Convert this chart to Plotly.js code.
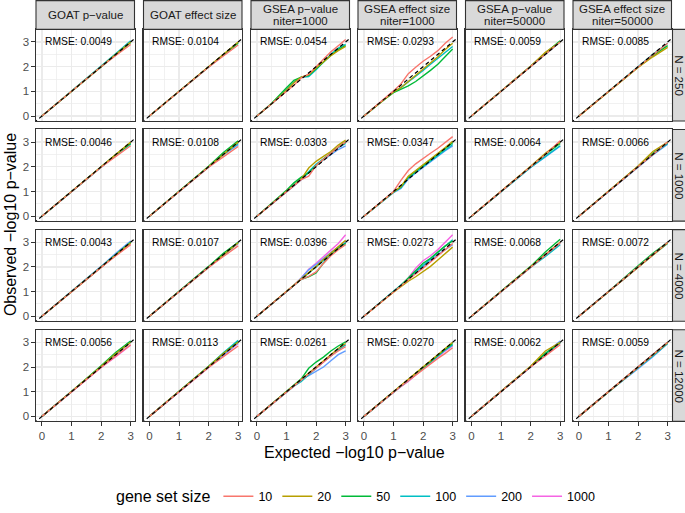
<!DOCTYPE html>
<html>
<head>
<meta charset="utf-8">
<script src="https://cdn.plot.ly/plotly-3.0.1.min.js"></script>
<style>
  html, body { margin: 0; padding: 0; background: #fff; }
  #renderTarget { width: 685px; height: 513px; }
</style>
</head>
<body>
<div id="renderTarget"></div>
<script>
// gene set sizes and their ggplot hue colours
const sizes = ["10", "20", "50", "100", "200", "1000"];
const sizeColors = ["#F8766D", "#B79F00", "#00BA38", "#00BFC4", "#619CFF", "#F564E3"];

// facet labels
const methodLine1 = ["GOAT p\u2212value", "GOAT effect size", "GSEA p\u2212value", "GSEA effect size", "GSEA p\u2212value", "GSEA effect size"];
const methodLine2 = ["", "", "niter=1000", "niter=1000", "niter=50000", "niter=50000"];
const nLabels = ["N = 250", "N = 1000", "N = 4000", "N = 12000"];

const rmse = [
    ["0.0049", "0.0104", "0.0454", "0.0293", "0.0059", "0.0085"],
    ["0.0046", "0.0108", "0.0303", "0.0347", "0.0064", "0.0066"],
    ["0.0043", "0.0107", "0.0396", "0.0273", "0.0068", "0.0072"],
    ["0.0056", "0.0113", "0.0261", "0.0270", "0.0062", "0.0059"],
];

const tickVals = [0, 1, 2, 3];

// expected -log10 p grids the observed values were read at
const xCoarse = [0, 1, 2, 2.5, 3];
const xFine = [0, 0.5, 1, 1.25, 1.5, 1.75, 2, 2.25, 2.5, 2.75, 3];

// reference line y = x
const refLine = [-1, 4];

// observed -log10 p, one row per gene set size (10, 20, 50, 100, 200, 1000)
// N = 250
const goatP_250 = [[0, 1, 2, 2.45, 2.9], [0, 1, 2, 2.5, 3.0], [0, 1, 2, 2.5, 2.98], [0, 1, 2.02, 2.53, 3.05]];
const goatE_250 = [[0, 1, 1.98, 2.43, 2.88], [0, 1, 2, 2.5, 3.0], [0, 1, 2, 2.48, 2.95], [0, 1, 2, 2.5, 2.98]];
const gseaP1k_250 = [
    [0, 0.5, 1.0, 1.25, 1.55, 1.7, 2.0, 2.3, 2.6, 2.85, 3.1],
    [0, 0.5, 1.05, 1.35, 1.58, 1.68, 1.95, 2.2, 2.45, 2.65, 2.82],
    [0, 0.52, 1.15, 1.45, 1.58, 1.65, 1.92, 2.2, 2.45, 2.7, 2.85],
    [0, 0.5, 1.08, 1.38, 1.57, 1.6, 1.88, 2.2, 2.5, 2.75, 2.9],
];
const gseaE1k_250 = [
    [0, 0.5, 1.02, 1.3, 1.72, 1.98, 2.22, 2.42, 2.65, 2.95, 3.2],
    [0, 0.5, 0.98, 1.15, 1.4, 1.65, 1.9, 2.15, 2.4, 2.7, 2.95],
    [0, 0.5, 0.95, 1.08, 1.22, 1.4, 1.62, 1.85, 2.1, 2.42, 2.72],
    [0, 0.5, 0.98, 1.15, 1.38, 1.6, 1.85, 2.1, 2.35, 2.6, 2.82],
];
const gseaP50k_250 = [[0, 1, 2, 2.5, 3.0], [0, 1, 2.02, 2.58, 3.0], [0, 1, 2.02, 2.55, 3.05], [0, 1, 2, 2.52, 3.0]];
const gseaE50k_250 = [[0, 1, 2, 2.48, 2.95], [0, 1, 1.97, 2.4, 2.78], [0, 1, 1.98, 2.45, 2.85], [0, 1, 2, 2.5, 2.95]];

// N = 1000
const goatP_1000 = [[0, 1, 1.98, 2.42, 2.85], [0, 1, 2.02, 2.52, 3.0], [0, 1, 2, 2.5, 2.95], [0, 1, 2, 2.48, 2.92], [0, 1, 2, 2.5, 2.97]];
const goatE_1000 = [[0, 1, 1.98, 2.4, 2.82], [0, 1, 2, 2.52, 3.0], [0, 1, 2.02, 2.58, 3.05], [0, 1, 2, 2.5, 2.95], [0, 1, 2, 2.48, 2.9]];
const gseaP1k_1000 = [
    [0, 0.5, 1.0, 1.25, 1.48, 1.62, 2.05, 2.3, 2.55, 2.8, 3.0],
    [0, 0.5, 1.0, 1.28, 1.5, 1.95, 2.22, 2.42, 2.62, 2.88, 3.08],
    [0, 0.52, 1.05, 1.35, 1.58, 1.75, 2.05, 2.3, 2.55, 2.8, 3.0],
    [0, 0.5, 1.0, 1.28, 1.52, 1.8, 2.1, 2.32, 2.55, 2.78, 2.95],
    [0, 0.48, 0.97, 1.22, 1.48, 1.78, 2.05, 2.28, 2.5, 2.7, 2.85],
];
const gseaE1k_1000 = [
    [0, 0.5, 1.0, 1.45, 1.85, 2.12, 2.35, 2.55, 2.75, 3.0, 3.22],
    [0, 0.5, 0.98, 1.2, 1.62, 1.85, 2.08, 2.3, 2.52, 2.78, 3.03],
    [0, 0.5, 0.98, 1.18, 1.58, 1.82, 2.05, 2.28, 2.5, 2.75, 2.98],
    [0, 0.5, 0.97, 1.15, 1.55, 1.78, 2.0, 2.22, 2.45, 2.68, 2.9],
    [0, 0.47, 0.95, 1.12, 1.5, 1.75, 1.98, 2.2, 2.42, 2.65, 2.85],
];
const gseaP50k_1000 = [[0, 1, 2, 2.5, 3.05], [0, 1, 2.02, 2.55, 3.0], [0, 1, 2, 2.5, 2.95], [0, 1, 1.97, 2.42, 2.85], [0, 1, 1.97, 2.4, 2.83]];
const gseaE50k_1000 = [[0, 1, 2, 2.5, 3.0], [0, 1, 2.03, 2.62, 3.0], [0, 1, 2.02, 2.55, 2.98], [0, 1, 2, 2.5, 2.95], [0, 1, 2, 2.48, 2.92]];

// N = 4000
const goatP_4000 = [[0, 1, 1.98, 2.45, 2.9], [0, 1, 2, 2.5, 2.97], [0, 1, 2, 2.52, 3.0], [0, 1, 2, 2.5, 2.98], [0, 1, 2.02, 2.55, 3.05], [0, 1, 2, 2.48, 2.95]];
const goatE_4000 = [[0, 1, 1.98, 2.42, 2.85], [0, 1, 2, 2.5, 2.98], [0, 1, 2.02, 2.55, 3.0], [0, 1, 2, 2.5, 2.97], [0, 1, 2, 2.5, 3.0], [0, 1, 2, 2.48, 2.95]];
const gseaP1k_4000 = [
    [0, 0.5, 1.0, 1.25, 1.5, 1.62, 1.8, 2.15, 2.45, 2.7, 2.9],
    [0, 0.5, 1.0, 1.25, 1.5, 1.75, 2.02, 2.3, 2.55, 2.82, 3.08],
    [0, 0.5, 1.0, 1.25, 1.5, 1.6, 1.75, 2.15, 2.48, 2.75, 2.95],
    [0, 0.5, 1.0, 1.25, 1.5, 1.75, 1.98, 2.25, 2.5, 2.75, 2.95],
    [0, 0.5, 1.0, 1.25, 1.55, 1.88, 2.1, 2.35, 2.58, 2.8, 3.0],
    [0, 0.5, 1.0, 1.25, 1.55, 1.9, 2.15, 2.4, 2.68, 2.95, 3.3],
];
const gseaE1k_4000 = [
    [0, 0.5, 1.0, 1.25, 1.48, 1.72, 1.95, 2.2, 2.45, 2.7, 2.95],
    [0, 0.5, 0.98, 1.2, 1.42, 1.6, 1.8, 2.02, 2.28, 2.55, 2.8],
    [0, 0.5, 1.0, 1.25, 1.55, 1.85, 2.15, 2.35, 2.6, 2.85, 3.05],
    [0, 0.5, 1.0, 1.25, 1.52, 1.8, 2.08, 2.32, 2.58, 2.85, 3.1],
    [0, 0.5, 1.0, 1.25, 1.5, 1.75, 2.0, 2.25, 2.5, 2.7, 2.9],
    [0, 0.5, 1.0, 1.25, 1.55, 1.95, 2.25, 2.45, 2.7, 3.0, 3.3],
];
const gseaP50k_4000 = [[0, 1, 2, 2.5, 2.97], [0, 1, 2, 2.52, 3.0], [0, 1, 2.02, 2.6, 3.12], [0, 1, 1.98, 2.42, 2.9], [0, 1, 2, 2.48, 2.95], [0, 1, 2, 2.5, 3.0]];
const gseaE50k_4000 = [[0, 1, 2, 2.5, 3.0], [0, 1, 2, 2.5, 2.97], [0, 1, 2.05, 2.55, 3.0], [0, 1, 2, 2.48, 2.95], [0, 1, 2, 2.5, 3.0], [0, 1, 2, 2.5, 2.98]];

// N = 12000
const goatP_12000 = [[0, 1, 1.98, 2.45, 2.9], [0, 1, 2.02, 2.55, 3.0], [0, 1, 2.05, 2.6, 3.05], [0, 1, 2.02, 2.55, 3.05], [0, 1, 2, 2.5, 3.0], [0, 1, 1.98, 2.42, 2.88]];
const goatE_12000 = [[0, 1, 1.98, 2.42, 2.85], [0, 1, 2.02, 2.55, 3.0], [0, 1, 2.02, 2.55, 3.02], [0, 1, 2.03, 2.58, 3.08], [0, 1, 2, 2.5, 2.98], [0, 1, 2, 2.48, 2.95]];
const gseaP1k_12000 = [
    [0, 0.5, 1.0, 1.25, 1.5, 1.72, 1.95, 2.2, 2.45, 2.65, 2.82],
    [0, 0.5, 1.0, 1.25, 1.5, 1.75, 2.0, 2.25, 2.5, 2.75, 2.95],
    [0, 0.5, 1.0, 1.25, 1.52, 1.95, 2.2, 2.4, 2.65, 2.85, 3.02],
    [0, 0.5, 1.0, 1.22, 1.42, 1.7, 1.98, 2.22, 2.45, 2.7, 2.9],
    [0, 0.5, 1.0, 1.25, 1.5, 1.65, 1.82, 2.0, 2.25, 2.5, 2.65],
    [0, 0.5, 1.0, 1.25, 1.5, 1.72, 1.95, 2.2, 2.45, 2.7, 2.88],
];
const gseaE1k_12000 = [
    [0, 0.5, 1.0, 1.22, 1.45, 1.68, 1.9, 2.12, 2.35, 2.55, 2.78],
    [0, 0.5, 1.0, 1.25, 1.5, 1.75, 2.0, 2.25, 2.5, 2.75, 3.0],
    [0, 0.5, 1.0, 1.25, 1.5, 1.75, 2.0, 2.25, 2.5, 2.72, 2.95],
    [0, 0.5, 0.98, 1.22, 1.45, 1.7, 1.95, 2.2, 2.45, 2.7, 2.9],
    [0, 0.5, 1.0, 1.25, 1.48, 1.72, 1.95, 2.2, 2.45, 2.68, 2.88],
    [0, 0.5, 0.97, 1.2, 1.42, 1.68, 1.92, 2.18, 2.42, 2.65, 2.85],
];
const gseaP50k_12000 = [[0, 1, 2, 2.45, 2.9], [0, 1, 2.03, 2.65, 3.0], [0, 1, 2.02, 2.55, 2.98], [0, 1, 2, 2.5, 3.0], [0, 1, 2.02, 2.55, 3.05], [0, 1, 2, 2.5, 2.95]];
const gseaE50k_12000 = [[0, 1, 2, 2.5, 3.0], [0, 1, 2, 2.5, 2.98], [0, 1, 2, 2.5, 3.0], [0, 1, 1.97, 2.45, 2.95], [0, 1, 1.93, 2.42, 2.95], [0, 1, 2, 2.5, 3.0]];

// facet grid: rows = N, columns = method
const panels = [
    [goatP_250, goatE_250, gseaP1k_250, gseaE1k_250, gseaP50k_250, gseaE50k_250],
    [goatP_1000, goatE_1000, gseaP1k_1000, gseaE1k_1000, gseaP50k_1000, gseaE50k_1000],
    [goatP_4000, goatE_4000, gseaP1k_4000, gseaE1k_4000, gseaP50k_4000, gseaE50k_4000],
    [goatP_12000, goatE_12000, gseaP1k_12000, gseaE1k_12000, gseaP50k_12000, gseaE50k_12000],
];

// page geometry (pixels)
const W = 685;
const H = 513;
const colLeft = [36, 143.5, 251, 358, 465.5, 573];
const panelW = 98.5;
const rowTop = [29.5, 130, 230.5, 331];
const panelH = 92;
const px = (v) => v / W;
const py = (v) => 1 - v / H;

const font = "Liberation Sans, Arial, sans-serif";
const data = [];
const layout = {
    width: W,
    height: H,
    margin: { l: 0, r: 0, t: 0, b: 0 },
    paper_bgcolor: "#ffffff",
    plot_bgcolor: "#ffffff",
    font: { family: font, color: "#000000" },
    showlegend: true,
    legend: {
        orientation: "h",
        x: px(114),
        xanchor: "left",
        y: py(499),
        yanchor: "middle",
        title: { text: "gene set size", side: "left", font: { size: 16, color: "#000000" } },
        font: { size: 12.5, color: "#000000" },
        traceorder: "normal",
        bgcolor: "rgba(0,0,0,0)",
    },
    shapes: [],
    annotations: [],
};

const gridColor = "#EBEBEB";

panels.forEach((row, r) => {
    row.forEach((series, c) => {
        const n = r * 6 + c + 1;
        const xa = n === 1 ? "x" : "x" + n;
        const ya = n === 1 ? "y" : "y" + n;
        const xk = n === 1 ? "xaxis" : "xaxis" + n;
        const yk = n === 1 ? "yaxis" : "yaxis" + n;

        const common = {
            tickmode: "array",
            tickvals: tickVals,
            showgrid: true,
            gridcolor: gridColor,
            gridwidth: 1.2,
            minor: { tickvals: [0.5, 1.5, 2.5], showgrid: true, gridcolor: gridColor, gridwidth: 0.7, ticks: "" },
            showline: true,
            mirror: true,
            linecolor: "#333333",
            linewidth: 1.1,
            zeroline: false,
            ticklen: 3.5,
            tickwidth: 1,
            tickcolor: "#333333",
            tickfont: { family: font, size: 11.5, color: "#4D4D4D" },
            fixedrange: true,
        };

        layout[xk] = Object.assign({}, common, {
            domain: [px(colLeft[c]), px(colLeft[c] + panelW)],
            range: [-0.2, 3.13],
            anchor: ya,
            showticklabels: r === 3,
            ticks: r === 3 ? "outside" : "",
            ticklabelstandoff: 0,
        });
        layout[yk] = Object.assign({}, common, {
            domain: [py(rowTop[r] + panelH), py(rowTop[r])],
            range: [-0.2, 3.51],
            anchor: xa,
            showticklabels: c === 0,
            ticks: c === 0 ? "outside" : "",
        });

        const xs = series[0].length === xFine.length ? xFine : xCoarse;

        // draw the larger sets first so size 10 ends up on top
        for (let s = series.length - 1; s >= 0; s--) {
            data.push({
                type: "scatter",
                mode: "lines",
                x: xs,
                y: series[s],
                xaxis: xa,
                yaxis: ya,
                name: sizes[s],
                legendgroup: sizes[s],
                legendrank: s + 1,
                showlegend: r === 3 && c === 0,
                line: { color: sizeColors[s], width: 1.4 },
                hoverinfo: "skip",
            });
        }

        data.push({
            type: "scatter",
            mode: "lines",
            x: refLine,
            y: refLine,
            xaxis: xa,
            yaxis: ya,
            showlegend: false,
            line: { color: "#000000", width: 1.2, dash: "4px,3px" },
            hoverinfo: "skip",
        });

        layout.annotations.push({
            xref: xa,
            yref: ya,
            x: 0.02,
            y: 3.0,
            xanchor: "left",
            yanchor: "middle",
            text: "RMSE: " + rmse[r][c],
            showarrow: false,
            font: { family: font, size: 10.3, color: "#000000" },
        });
    });
});

// top strips
colLeft.forEach((left, c) => {
    layout.shapes.push({
        type: "rect", xref: "paper", yref: "paper",
        x0: px(left), x1: px(left + panelW), y0: py(29.5), y1: py(0.6),
        fillcolor: "#D9D9D9", line: { color: "#333333", width: 1.1 }, layer: "above",
    });
    const lines = methodLine2[c] ? [[methodLine1[c], 8.6], [methodLine2[c], 21.4]] : [[methodLine1[c], 15]];
    lines.forEach(([txt, yy]) => {
        layout.annotations.push({
            xref: "paper", yref: "paper", x: px(left + panelW / 2), y: py(yy),
            xanchor: "center", yanchor: "middle", text: txt, showarrow: false,
            font: { family: font, size: 11.5, color: "#1A1A1A" },
        });
    });
});

// right strips
rowTop.forEach((top, r) => {
    layout.shapes.push({
        type: "rect", xref: "paper", yref: "paper",
        x0: px(672.5), x1: px(686), y0: py(top + panelH), y1: py(top),
        fillcolor: "#D9D9D9", line: { color: "#333333", width: 1.1 }, layer: "above",
    });
    layout.annotations.push({
        xref: "paper", yref: "paper", x: px(679), y: py(top + panelH / 2),
        xanchor: "center", yanchor: "middle", text: nLabels[r], textangle: 90, showarrow: false,
        font: { family: font, size: 11.5, color: "#1A1A1A" },
    });
});

// shared axis titles
layout.annotations.push({
    xref: "paper", yref: "paper", x: px(354), y: py(454),
    xanchor: "center", yanchor: "middle", text: "Expected \u2212log10 p\u2212value", showarrow: false,
    font: { family: font, size: 16, color: "#000000" },
});
layout.annotations.push({
    xref: "paper", yref: "paper", x: px(10), y: py(226),
    xanchor: "center", yanchor: "middle", text: "Observed \u2212log10 p\u2212value", textangle: -90, showarrow: false,
    font: { family: font, size: 16, color: "#000000" },
});

Plotly.newPlot("renderTarget", data, layout, { staticPlot: true, displayModeBar: false });
</script>
</body>
</html>
